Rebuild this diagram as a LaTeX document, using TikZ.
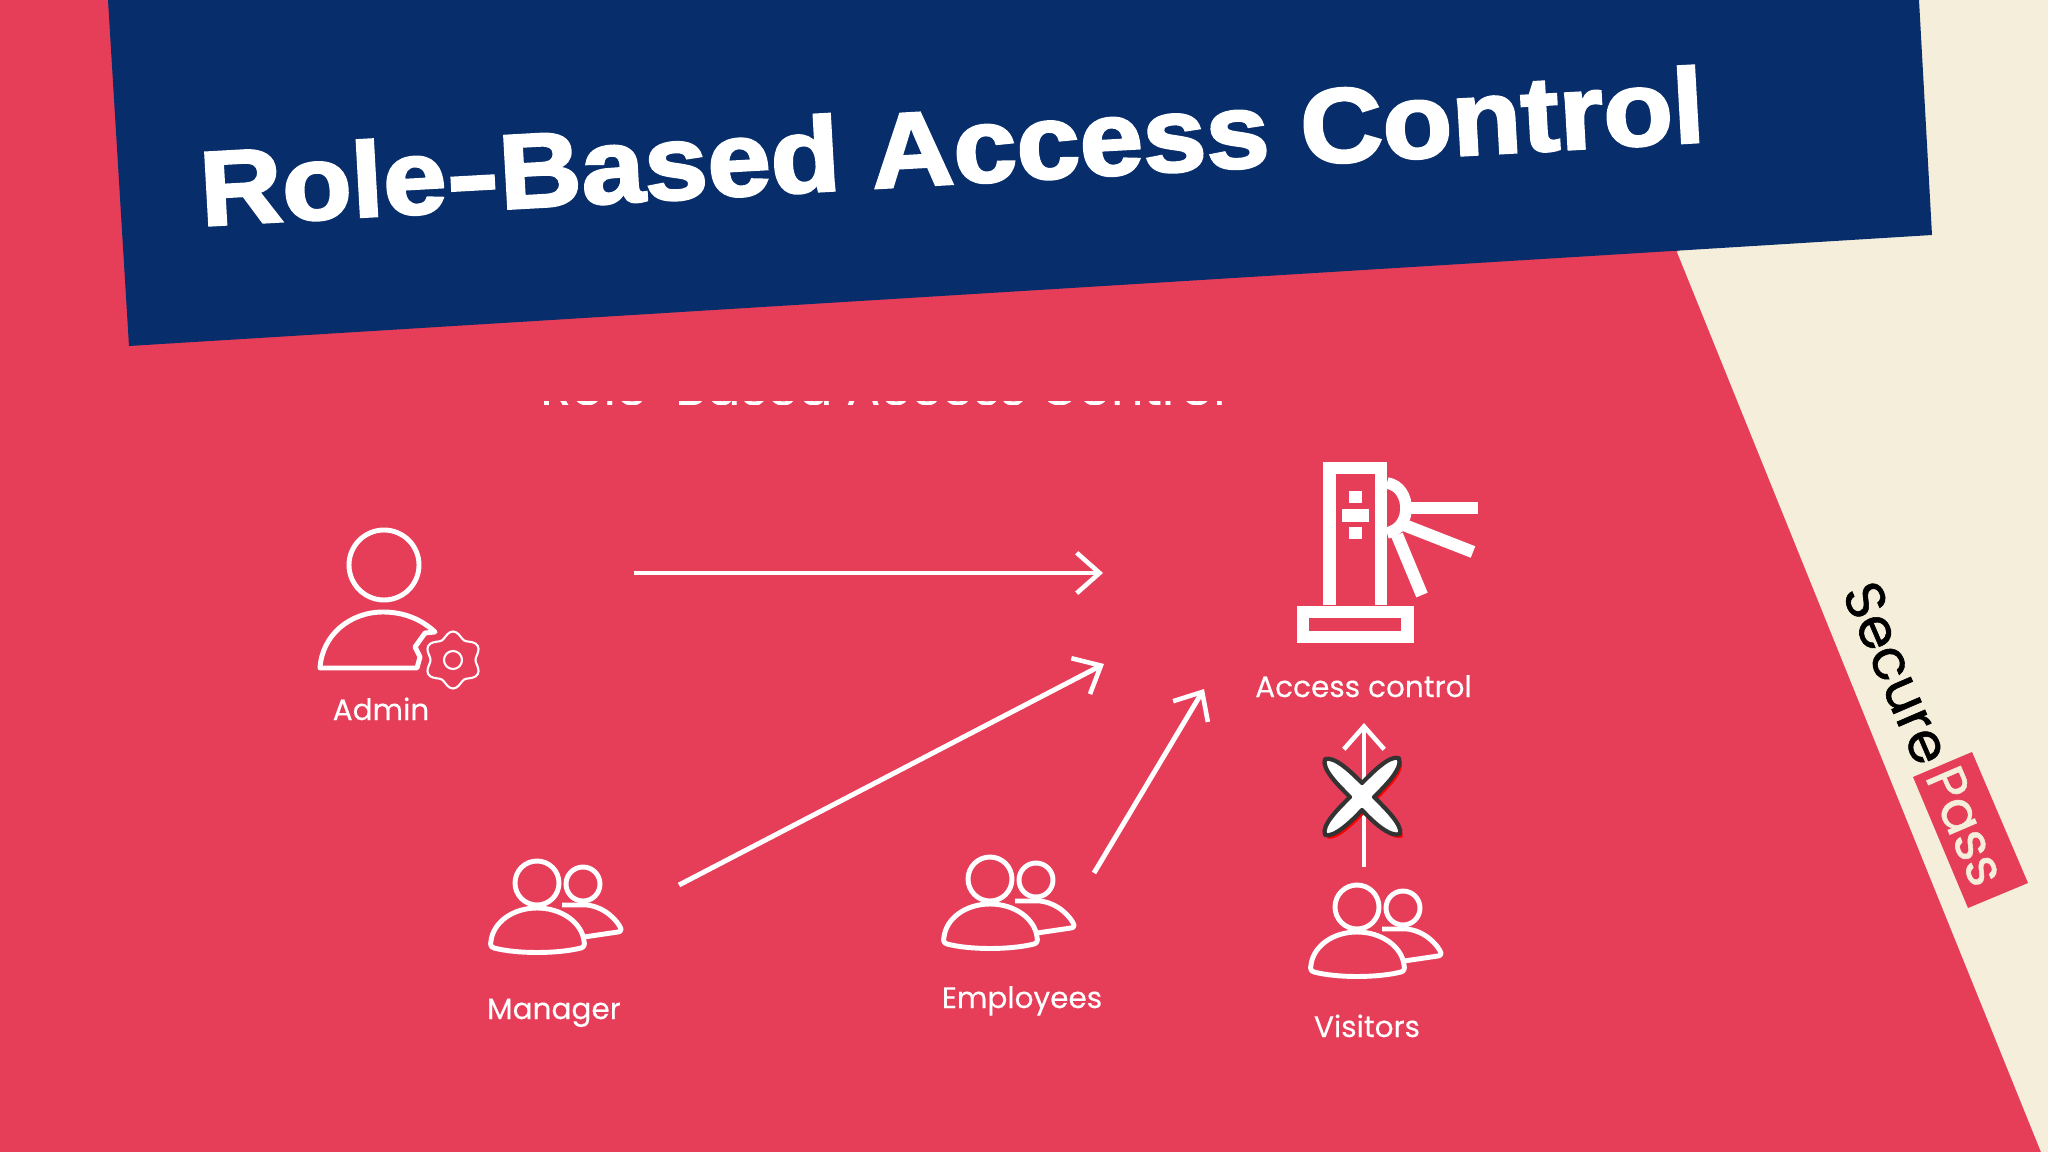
\documentclass[tikz,border=0pt]{standalone}
\usepackage{fontspec}
\usepackage{tikz}
\usetikzlibrary{arrows.meta}
\setmainfont[FakeBold=0.25]{Poppins}
\newfontfamily\titlefont[FakeBold=2.6,FakeStretch=1.078]{Liberation Sans Bold}
\newfontfamily\logofont[FakeBold=1.0]{Poppins}
\definecolor{rosso}{HTML}{E63E59}
\definecolor{navy}{HTML}{072D6B}
\definecolor{cream}{HTML}{F4EEDA}
\definecolor{ink}{HTML}{333333}
\tikzset{
  flow/.style={draw=white,line width=1.4pt,-{Straight Barb[length=6.5pt,width=11.5pt,line width=1.3pt]}},
  icon/.style={draw=white,line width=1.4pt,line join=round},
  gate/.style={draw=white,line width=3.5pt},
  label/.style={text=white,font=\fontsize{8.4pt}{9pt}\selectfont,anchor=base},
  cross/.pic={
    \path[pic actions] (-37,-38) .. controls (-27,-41) and (-10,-24) .. (0,-14) .. controls (10,-24) and (27,-42) .. (37,-39) .. controls (41,-28) and (22,-10) .. (12,0) .. controls (22,10) and (41,28) .. (38,37) .. controls (28,41) and (10,24) .. (0,13) .. controls (-10,24) and (-28,41) .. (-37,38) .. controls (-41,28) and (-22,10) .. (-12,0) .. controls (-22,-10) and (-41,-28) .. cycle;
  }
}
\newcommand{\people}[2]{
\begin{scope}[shift={(#1,#2)}]
\draw[icon] (0,0) circle [radius=22];
\draw[icon] (46,1) circle [radius=17];
\draw[icon] (-46,58) .. controls (-44,40) and (-25,25) .. (0,25) .. controls (25,25) and (45,40) .. (47,58) .. controls (48,62) and (47,64) .. (44,65) .. controls (20,71) and (-20,71) .. (-43,65) .. controls (-46,64) and (-47,62) .. cycle;
\draw[icon] (25,22) -- (50,22) .. controls (68,24) and (81,38) .. (84,46) .. controls (84,48) and (83,49) .. (81,49) -- (47,54);
\end{scope}
}
\begin{document}
\begin{tikzpicture}[x=0.01cm,y=-0.01cm]
\useasboundingbox (0,0) rectangle (2048,1152);
\fill[rosso] (0,0) rectangle (2048,1152);
\fill[cream] (1677,252) -- (1919,0) -- (2048,0) -- (2048,1152) -- (2041,1152) -- cycle;
\fill[navy] (108,0) -- (1919,0) -- (1932,235) -- (129,346) -- cycle;

\node[text=white,rotate=3.2,font=\titlefont\fontsize{30pt}{32pt}\selectfont] (title) at (952,146) {Role\scalebox{1.4}[1]{-}Based Access Control};

% sliver of the heading
\begin{scope}
\clip (540,401.5) rectangle (1230,405);
\node[text=white,font=\fontsize{14.4pt}{15pt}\selectfont,anchor=base] (heading) at (883,405) {Role-Based Access Control};
\end{scope}

% admin
\draw[icon] (384,565) circle [radius=35];
\draw[icon] (320,668) .. controls (322,635) and (350,612) .. (383,612) .. controls (405,612) and (422,620) .. (435,632) -- (425,633) -- (415,647) -- (420,657) -- (417,668) -- cycle;
\draw[draw=white,line width=0.6pt] plot[domain=0:360,samples=61,smooth cycle] ({453+(25.5-3*cos(6*\x))*cos(\x)},{660+(25.5-3*cos(6*\x))*sin(\x)});
\draw[draw=white,line width=0.6pt] (453,660) circle [radius=9];
\node[label] (admin) at (381,720) {Admin};

% people
\people{537}{883}
\node[label] (manager) at (554,1019) {Manager};
\people{990}{879}
\node[label] (employees) at (1022,1008) {Employees};
\people{1357}{907}
\node[label] (visitors) at (1367,1037) {Visitors};

% turnstile
\draw[gate] (1329.5,605) -- (1329.5,468) -- (1381,468) -- (1381,605);
\draw[gate] (1303,612) rectangle (1407.5,637);
\fill[white] (1349,491) rectangle (1362,503);
\fill[white] (1342,509) rectangle (1369,522);
\fill[white] (1349,527) rectangle (1362,539);
\draw[draw=white,line width=3.3pt] (1387,483) .. controls (1400,485) and (1406,497) .. (1406,508) .. controls (1406,520) and (1400,530) .. (1387,533);
\draw[gate] (1406,508) -- (1478,508);
\draw[gate] (1404,525) -- (1473,552);
\draw[gate] (1397,535) -- (1422,595);
\node[label] (control) at (1363.5,697) {Access control};

% arrows
\coordinate (admin out) at (634,573);
\coordinate (admin in) at (1103,573);
\coordinate (manager out) at (679,885);
\coordinate (manager in) at (1104,664);
\coordinate (employees out) at (1094,873);
\coordinate (employees in) at (1204,689);
\coordinate (visitors out) at (1364,867);
\coordinate (visitors in) at (1364,723);
\draw[flow] (admin out) -- (admin in);
\draw[flow] (manager out) -- (manager in);
\draw[flow] (employees out) -- (employees in);
\draw[flow] (visitors out) -- (visitors in);

% denied mark
\path (1364.5,800.5) pic[fill=red] {cross};
\path (1362,797) pic[draw=ink,fill=white,line width=1.2pt,line join=round] {cross};

% logo
\fill[rosso] (1913,777) -- (1972,752) -- (2028,883) -- (1968,908) -- cycle;
\node[text=black,rotate=-66.7,font=\logofont\fontsize{15.8pt}{17pt}\selectfont] (secure) at (1897,673) {Secure};
\node[text=cream,rotate=-66.7,font=\logofont\fontsize{15.2pt}{17pt}\selectfont] (pass) at (1966,826) {Pass};
\end{tikzpicture}
\end{document}
